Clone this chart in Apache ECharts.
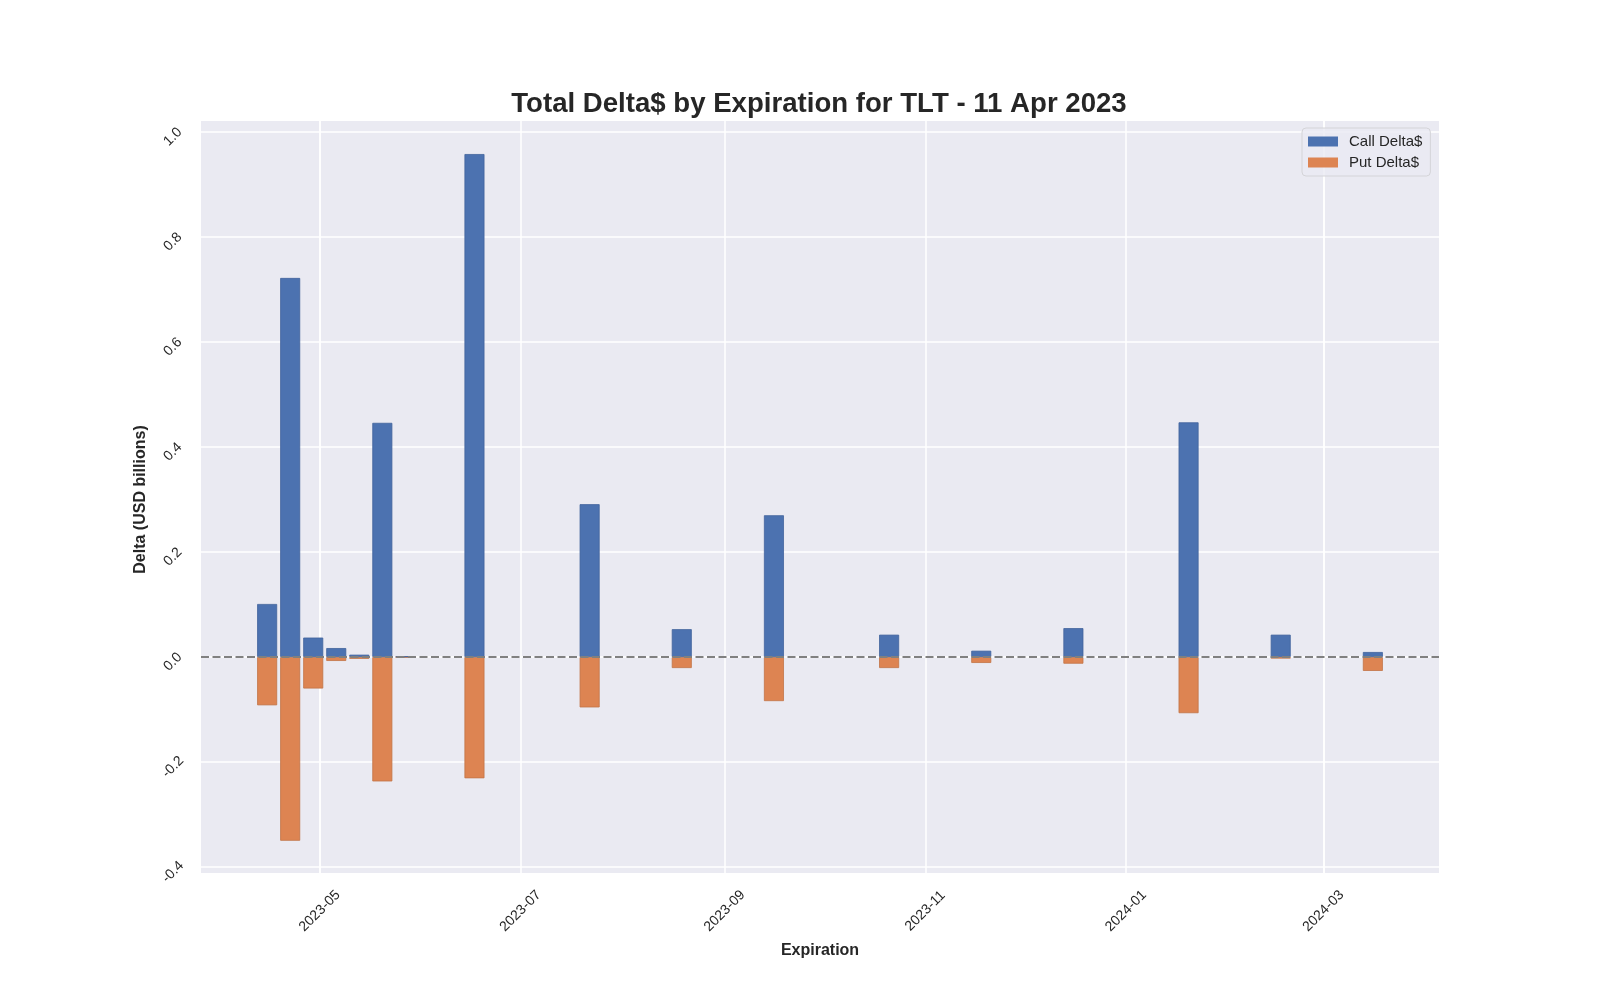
<!DOCTYPE html>
<html>
<head>
    <meta charset="utf-8">
    <title>Total Delta$ by Expiration for TLT</title>
    <script src="https://cdn.jsdelivr.net/npm/echarts@6.0.0/dist/echarts.min.js"></script>
    <style>
        html, body { margin: 0; padding: 0; background: #fff; }
        #chart { width: 1600px; height: 1000px; }
    </style>
</head>
<body>
<div id="chart"></div>
<script>
    // expirations (Saturday dates as in the source data)
    var expirations = ['2023-04-15', '2023-04-22', '2023-04-29', '2023-05-06', '2023-05-13', '2023-05-20',
        '2023-05-27', '2023-06-17', '2023-07-22', '2023-08-19', '2023-09-16', '2023-10-21',
        '2023-11-18', '2023-12-16', '2024-01-20', '2024-02-17', '2024-03-16'];
    // call / put delta$ in USD billions
    var callDelta = [0.101, 0.722, 0.037, 0.017, 0.0044, 0.446, 0.0015, 0.958, 0.291, 0.053, 0.270,
        0.0425, 0.012, 0.055, 0.447, 0.0425, 0.0095];
    var putDelta = [-0.092, -0.350, -0.060, -0.0075, -0.0035, -0.237, -0.001, -0.231, -0.096, -0.021, -0.084,
        -0.021, -0.0113, -0.0127, -0.107, -0.003, -0.0265];
    // month tick labels on the x axis
    var monthTicks = ['2023-05-01', '2023-07-01', '2023-09-01', '2023-11-01', '2024-01-01', '2024-03-01'];
    var yTicks = [-0.4, -0.2, 0.0, 0.2, 0.4, 0.6, 0.8, 1.0];

    var DAY = 86400000;
    function toTime(s) {
        var p = s.split('-');
        return new Date(+p[0], +p[1] - 1, +p[2]).getTime();
    }
    var plotW = 1238;
    var barW = 20;
    // x range with matplotlib-like 5% margin
    var xMin = toTime('2023-05-01') - 36.1 * DAY;
    var xMax = toTime('2023-05-01') + 340.1 * DAY;
    // echarts widens a bar axis by the bar width; shrink the range so it ends up the same
    var range = xMax - xMin;
    var shrink = range - range * (1 - barW / plotW);
    var xMinBar = xMin + shrink / 2;
    var xMaxBar = xMax - shrink / 2;

    var callData = expirations.map(function (d, i) { return [d, callDelta[i]]; });
    var putData = expirations.map(function (d, i) { return [d, putDelta[i]]; });
    var tickTimes = monthTicks.map(toTime);

    var font = 'Liberation Sans, Arial, sans-serif';
    var txt = '#262626';

    var myChart = echarts.init(document.getElementById('chart'));
    myChart.setOption({
        animation: false,
        backgroundColor: '#ffffff',
        title: {
            text: 'Total Delta$ by Expiration for TLT - 11 Apr 2023',
            left: 814,
            top: 85,
            textAlign: 'center',
            textStyle: { fontFamily: font, fontSize: 27.6, fontWeight: 'bold', color: txt }
        },
        legend: {
            orient: 'vertical',
            left: 1302,
            top: 128,
            padding: [6, 8, 6, 6],
            itemWidth: 30,
            itemHeight: 10,
            itemGap: 6,
            icon: 'rect',
            itemStyle: { borderWidth: 0 },
            backgroundColor: 'rgba(234,234,242,0.8)',
            borderColor: '#d4d4d8',
            borderWidth: 1,
            borderRadius: 4,
            textStyle: { fontFamily: font, fontSize: 15, color: txt, padding: [0, 0, 0, 6] },
            data: ['Call Delta$', 'Put Delta$']
        },
        grid: [
            // background panel (full axes area)
            { left: 201, top: 121, width: plotW, height: 752, show: true, backgroundColor: '#EAEAF2',
              borderWidth: 0, outerBoundsMode: 'none' },
            // data area, from -0.4 to 1.0
            { left: 201, top: 132, width: plotW, height: 735, outerBoundsMode: 'none' }
        ],
        xAxis: [
            {
                type: 'time', gridIndex: 0, min: xMin, max: xMax,
                axisLine: { show: false },
                axisTick: { show: false, customValues: tickTimes },
                splitLine: { show: true, lineStyle: { color: '#ffffff', width: 1.5 } },
                axisLabel: {
                    customValues: tickTimes, rotate: 45, align: 'center', verticalAlign: 'middle',
                    margin: 38, fontFamily: font, fontSize: 14, color: txt,
                    formatter: '{yyyy}-{MM}'
                },
                name: 'Expiration', nameLocation: 'middle', nameGap: 70, nameMoveOverlap: false,
                nameTextStyle: { fontFamily: font, fontSize: 16, fontWeight: 'bold', color: txt,
                    verticalAlign: 'top' }
            },
            {
                type: 'time', gridIndex: 1, min: xMinBar, max: xMaxBar, show: false,
                splitLine: { show: false }
            }
        ],
        yAxis: [
            { type: 'value', gridIndex: 0, min: 0, max: 1, show: false, splitLine: { show: false } },
            {
                type: 'value', gridIndex: 1, min: yTicks[0], max: yTicks[yTicks.length - 1], interval: 0.2,
                axisLine: { show: false }, axisTick: { show: false },
                splitLine: { show: true, lineStyle: { color: '#ffffff', width: 1.5 } },
                axisLabel: {
                    rotate: 45, align: 'center', verticalAlign: 'top', margin: 33,
                    fontFamily: font, fontSize: 14, color: txt,
                    formatter: function (v) { return v.toFixed(1); }
                },
                name: 'Delta (USD billions)', nameLocation: 'middle', nameGap: 52, nameMoveOverlap: false,
                nameTextStyle: { fontFamily: font, fontSize: 16, fontWeight: 'bold', color: txt }
            }
        ],
        series: [
            {
                name: 'Call Delta$', type: 'bar', xAxisIndex: 1, yAxisIndex: 1,
                barWidth: barW, barGap: '-100%',
                itemStyle: { color: '#4C72B0', borderColor: '#41639c', borderWidth: 0.8 },
                data: callData,
                markLine: {
                    silent: true, symbol: 'none', label: { show: false },
                    lineStyle: { color: '#808080', type: [8, 3.5], width: 2 },
                    data: [{ yAxis: 0 }]
                },
                z: 3
            },
            {
                name: 'Put Delta$', type: 'bar', xAxisIndex: 1, yAxisIndex: 1,
                barWidth: barW, barGap: '-100%',
                itemStyle: { color: '#DD8452', borderColor: '#c27446', borderWidth: 0.8 },
                data: putData,
                z: 2
            }
        ]
    });
</script>
</body>
</html>
